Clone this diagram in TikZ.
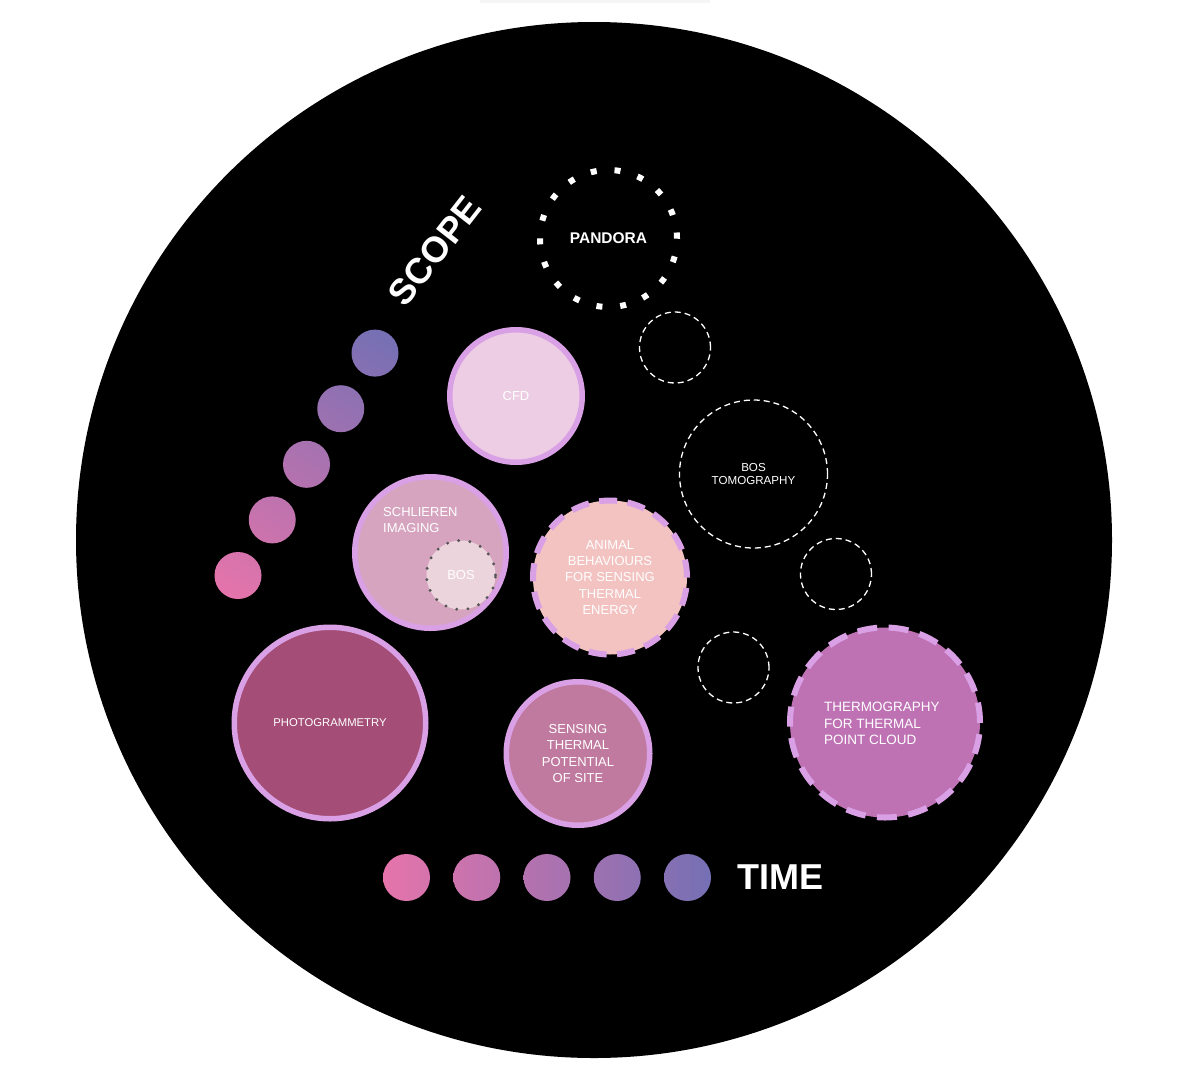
\documentclass[tikz,border=0pt]{standalone}
\usepackage{fontspec}
\setmainfont{Liberation Sans}
\usetikzlibrary{positioning}

\definecolor{lilac}{HTML}{DAA0E6}
\definecolor{pinkT}{HTML}{E574AB}
\definecolor{blueT}{HTML}{7570B4}
\definecolor{cfdfill}{HTML}{ECCDE4}
\definecolor{schfill}{HTML}{D6A4BF}
\definecolor{bosfill}{HTML}{ECD4DC}
\definecolor{animfill}{HTML}{F2C3C1}
\definecolor{photofill}{HTML}{A44D76}
\definecolor{sensefill}{HTML}{C17A9F}
\definecolor{thermofill}{HTML}{BE72B4}

\tikzset{
  txt/.style={text=white, font=\fontsize{13}{16.4}\selectfont, align=center, inner sep=0pt},
  done/.style={circle, draw=lilac, line width=5.5pt, inner sep=0pt, txt},
  ongoing/.style={circle, draw=lilac, line width=6pt, inner sep=0pt, txt},
  future/.style={circle, draw=white, line width=1.3pt, dash pattern=on 6pt off 4pt, inner sep=0pt, txt},
  inner/.style={circle, draw=black!67, line width=3.2pt, line cap=round, dash pattern=on 0pt off 11.3pt, inner sep=0pt, txt},
  goal/.style={circle, draw=white, line width=6pt, dash pattern=on 6pt off 17.9pt, inner sep=0pt, txt},
  tdot/.style={circle, minimum size=47pt, inner sep=0pt},
  big/.style={text=white, font=\bfseries\fontsize{36}{40}\selectfont, inner sep=0pt}
}

\begin{document}
\begin{tikzpicture}[x=1pt, y=-1pt]
  \useasboundingbox (0,0) rectangle (1203,1080);
  \fill[black!4] (480,0) rectangle (710,3);
  \node[circle, fill=black, minimum size=1036pt, inner sep=0pt] (disc) at (594,540) {};

  % pink to blue dots
  \foreach \i in {0,...,4} {
    \pgfmathsetmacro\lp{21.4*\i}
    \pgfmathsetmacro\rp{14.3+21.4*\i}
    \node[tdot, left color=blueT!\lp!pinkT, right color=blueT!\rp!pinkT] (t\i) at (406.5+70.25*\i,877.5) {};
    \node[tdot, bottom color=blueT!\lp!pinkT, top color=blueT!\rp!pinkT, shading angle=-32] (s\i) at (238+34.25*\i,575.5-55.6*\i) {};
  }
  \node[big, right=26pt of t4] (time) {TIME};
  \node[big, rotate=52] (scope) at (435,251) {SCOPE};

  % studies
  \node[done, fill=cfdfill, minimum size=132.5pt] (cfd) at (516,396) {CFD};
  \node[done, fill=schfill, minimum size=151.5pt] (schlieren) at (430.5,552.5) {};
  \node[txt, anchor=west, align=left] (schtxt) at (383,520) {SCHLIEREN\\IMAGING};
  \node[inner, fill=bosfill, minimum size=69pt] (bos) at (461,575) {BOS};
  \node[ongoing, fill=animfill, minimum size=154pt, dash pattern=on 18pt off 10.46pt] (animal) at (610,577.5)
    {ANIMAL\\BEHAVIOURS\\FOR SENSING\\THERMAL\\ENERGY};
  \node[done, fill=photofill, minimum size=191.5pt, font=\fontsize{11.3}{14}\selectfont] (photo) at (330,723) {PHOTOGRAMMETRY};
  \node[done, fill=sensefill, minimum size=143.5pt] (sensing) at (578,753.5)
    {SENSING\\THERMAL\\POTENTIAL\\OF SITE};
  \node[ongoing, fill=thermofill, minimum size=190pt, dash pattern=on 20pt off 11.4pt] (thermo) at (885,722.5) {};
  \node[txt, anchor=west, align=left, font=\fontsize{13.5}{16.5}\selectfont] (thermotxt) at (824,723.5)
    {THERMOGRAPHY\\FOR THERMAL\\POINT CLOUD};

  % future work
  \node[goal, minimum size=137pt, font=\bfseries\fontsize{15.5}{18}\selectfont] (pandora) at (608.5,238.5) {PANDORA};
  \node[future, minimum size=148pt, font=\fontsize{11.6}{13.5}\selectfont] (bostomo) at (753.5,474) {BOS\\TOMOGRAPHY};
  \node[future, minimum size=71pt] (f1) at (675,347.5) {};
  \node[future, minimum size=71pt] (f2) at (836,574) {};
  \node[future, minimum size=71pt] (f3) at (733.5,667.5) {};
\end{tikzpicture}
\end{document}
